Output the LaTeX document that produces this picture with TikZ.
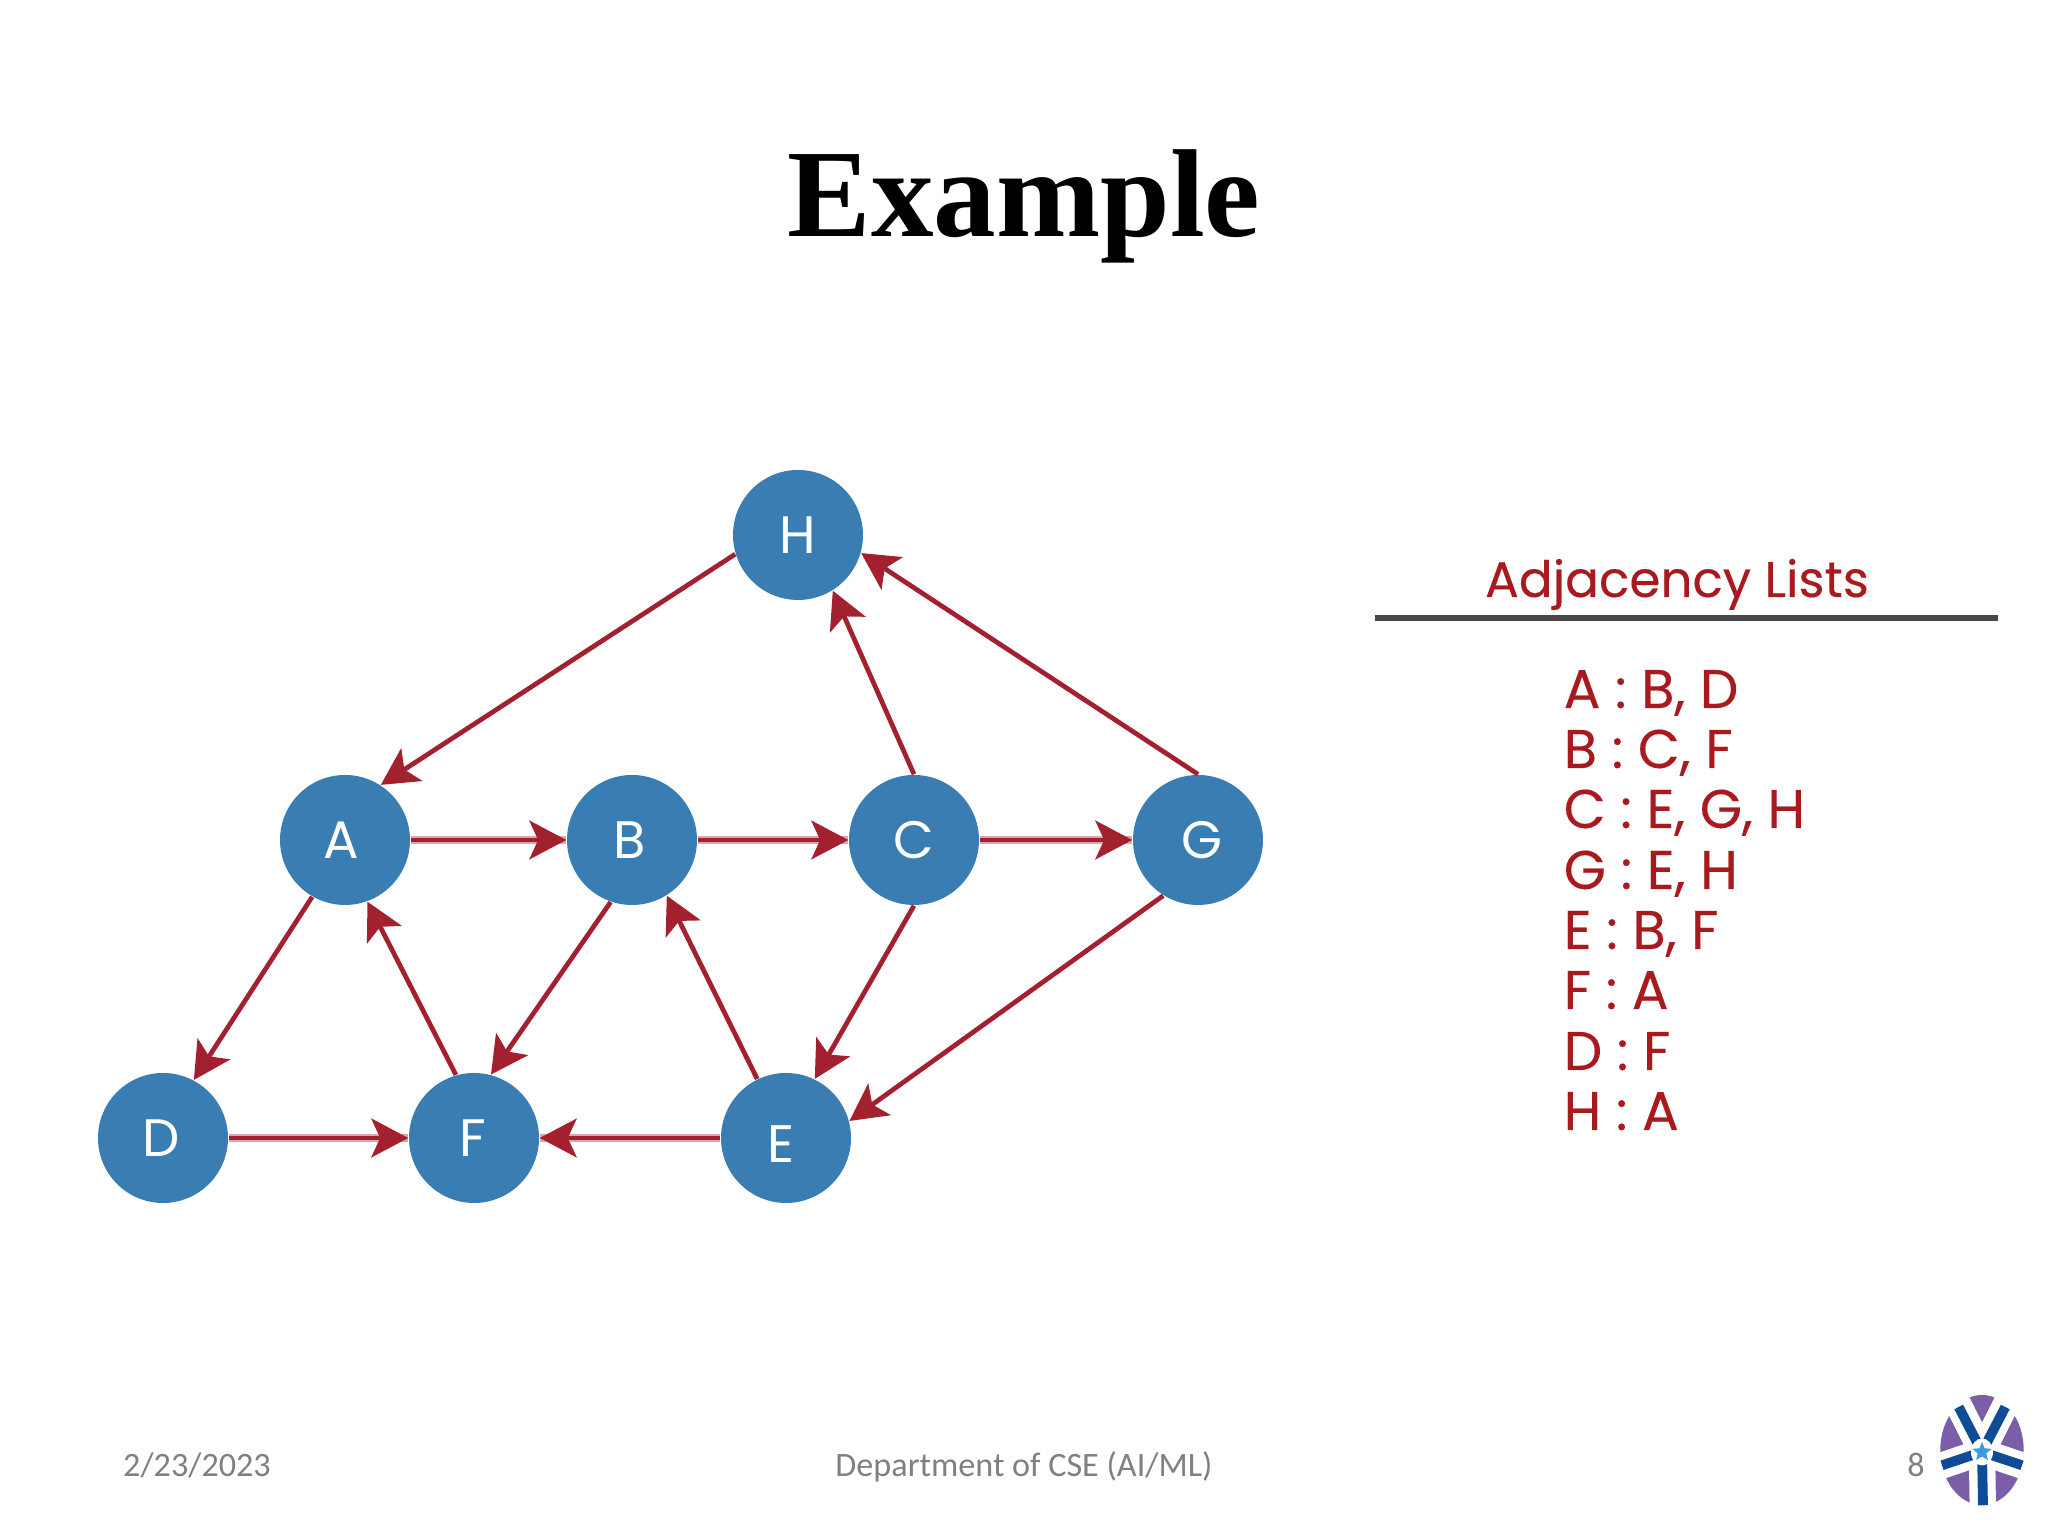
\documentclass[tikz,border=0pt]{standalone}
\usepackage{fontspec}
\usepackage{xcolor}
\usetikzlibrary{shapes.geometric, arrows.meta}
\setmainfont{Liberation Serif}
\newfontfamily\graphfont{Poppins}
\newfontfamily\listfont[FakeBold=0.25]{Poppins}
\newfontfamily\footfont{Carlito}
\definecolor{vertexblue}{HTML}{3A7DB3}
\definecolor{edgered}{HTML}{A3202E}
\definecolor{listred}{HTML}{A81A1E}
\definecolor{logopurple}{HTML}{7B5EA7}
\definecolor{logoblue}{HTML}{0F4C96}
\definecolor{logosky}{HTML}{3A9BE0}
\tikzset{
  vertex/.style={circle, fill=vertexblue, minimum size=1.3cm, inner sep=0pt, text=white, font=\graphfont\fontsize{15}{15}\selectfont},
  edge/.style={draw=edgered, line width=1.35pt, -{Stealth[length=10.5pt, width=11pt, inset=2.5pt]}},
  softedge/.style={edge, preaction={draw=edgered!40, line width=2.4pt, -}},
  listtext/.style={anchor=base west, inner sep=0pt, text=listred, font=\listfont\fontsize{15.5}{15.5}\selectfont},
  foottext/.style={anchor=base, inner sep=0pt, text=black!50, font=\footfont\fontsize{9.72}{9.72}\selectfont}
}
\begin{document}
\begin{tikzpicture}
    \useasboundingbox (0,0) rectangle (20.48,15.36);

    % Title
    \node (title) at (10.24,12.99) [anchor=base, inner sep=0pt, font=\bfseries\fontsize{35.6}{35.6}\selectfont] {Example};

    % Vertices
    \node[vertex] (H) at (7.98,10.01) {H};
    \node[vertex] (A) at (3.45,6.96) {A\hspace*{0.08cm}};
    \node[vertex] (B) at (6.32,6.96) {B\hspace*{0.05cm}};
    \node[vertex] (C) at (9.14,6.96) {C};
    \node[vertex] (G) at (11.98,6.96) {\hspace*{0.08cm}G};
    \node[vertex] (D) at (1.63,3.98) {D\hspace*{0.03cm}};
    \node[vertex] (F) at (4.74,3.98) {F\hspace*{0.03cm}};
    \node[vertex, text height=0.5cm] (E) at (7.86,3.98) {E\hspace*{0.1cm}};

    % Horizontal edges
    \draw[softedge] (A.east) -- (B.west);
    \draw[softedge] (B.east) -- (C.west);
    \draw[softedge] (C.east) -- (G.west);
    \draw[softedge] (D.east) -- (F.west);
    \draw[softedge] (E.west) -- (F.east);

    % Slanted edges
    \draw[edge] (H.197) -- (A.57);
    \draw[edge] (C.north) -- (H.-58);
    \draw[edge] (G.north) -- (H.-16);
    \draw[edge] (A.240) -- (D.62);
    \draw[edge] (F.106) -- (A.-70);
    \draw[edge] (B.251) -- (F.75);
    \draw[edge] (E.116) -- (B.-58);
    \draw[edge] (C.south) -- (E.64);
    \draw[edge] (G.238) -- (E.15);

    % Adjacency lists
    \node (listhead) at (16.77,9.39) [listtext, anchor=base, font=\listfont\fontsize{14.25}{14.25}\selectfont] {Adjacency Lists};
    \coordinate (ruleleft) at (13.75,9.18);
    \coordinate (ruleright) at (19.98,9.18);
    \draw[line width=1.8pt, color=black!72] (ruleleft) -- (ruleright);
    \node[listtext] (listA) at (15.63,8.28) {A : B, D};
    \node[listtext] (listB) at (15.63,7.68) {B : C, F};
    \node[listtext] (listC) at (15.63,7.08) {C : E, G, H};
    \node[listtext] (listG) at (15.63,6.47) {G : E, H};
    \node[listtext] (listE) at (15.63,5.87) {E : B, F};
    \node[listtext] (listF) at (15.63,5.27) {F : A};
    \node[listtext] (listD) at (15.63,4.66) {D : F};
    \node[listtext] (listH) at (15.63,4.06) {H : A};

    % Footer
    \node[foottext] (date) at (1.97,0.59) {2/23/2023};
    \node[foottext] (dept) at (10.24,0.59) {Department of CSE (AI/ML)};
    \node[foottext] (page) at (19.16,0.59) {8};

    % Logo
    \fill[logopurple] (19.82,0.86) ellipse (0.417cm and 0.55cm);
    \foreach \p in {(-0.32,0.64),(0.32,0.64),(-0.56,-0.19),(0.56,-0.19),(0.01,-0.68)}
        \draw[white, line width=7.5pt] (19.82,0.84) -- ++\p;
    \fill[white] (19.82,0.84) circle (0.2cm);
    \foreach \p in {(-0.233,0.45),(0.233,0.45),(-0.40,-0.133),(0.40,-0.133),(0.01,-0.533)}
        \draw[logoblue, line width=2.8pt] (19.82,0.84) -- ++\p;
    \fill[white] (19.82,0.84) ellipse (0.11cm and 0.135cm);
    \node (logostar) at (19.82,0.84) [star, star points=5, star point ratio=2.2, fill=logosky, minimum size=0.2cm, inner sep=0pt] {};
\end{tikzpicture}
\end{document}
